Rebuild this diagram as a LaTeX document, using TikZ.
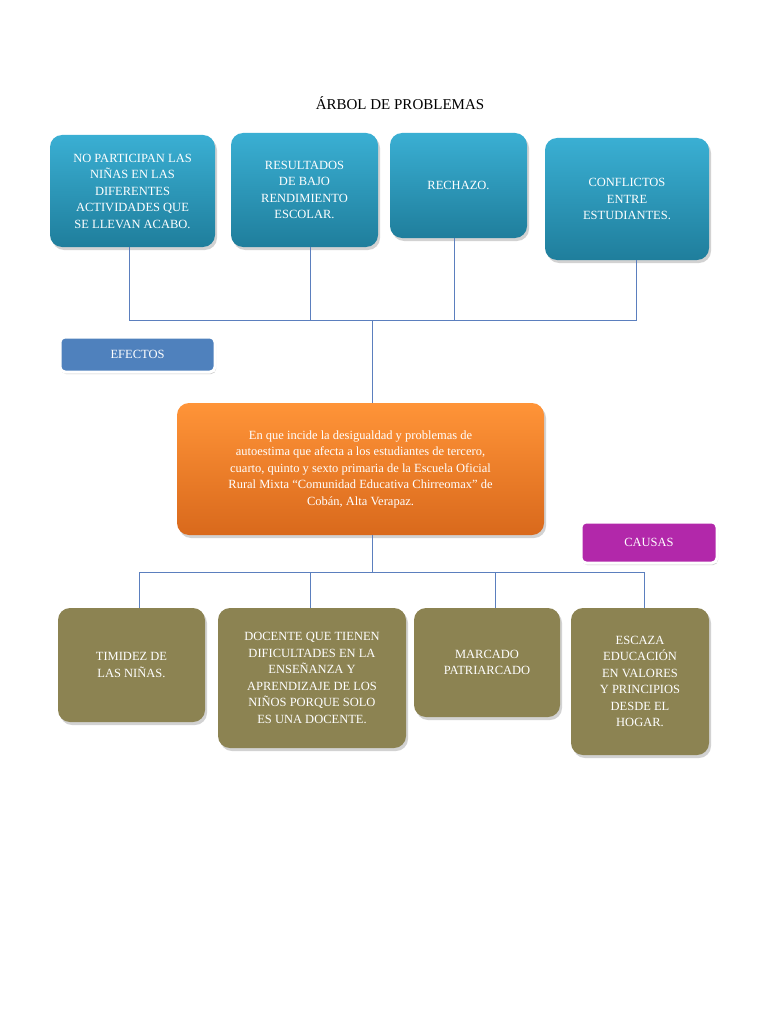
\documentclass[tikz,border=0pt]{standalone}
\usepackage{fontspec}
\setmainfont{Liberation Serif}
\usetikzlibrary{shadows}
\definecolor{tealA}{HTML}{3AAFD3}
\definecolor{tealB}{HTML}{1F7E9C}
\definecolor{orA}{HTML}{FF9438}
\definecolor{orB}{HTML}{D9691C}
\definecolor{ol}{HTML}{8C8352}
\definecolor{lin}{HTML}{5B7FBE}
\tikzset{
 box/.style={rounded corners=12pt, draw=none, text=white, align=center, inner sep=3pt, font=\fontsize{12.5}{16.5}\selectfont, drop shadow={opacity=0.35,shadow xshift=2pt,shadow yshift=-3pt}},
 topbox/.style={box, top color=tealA, bottom color=tealB},
 botbox/.style={box, fill=ol},
 tag/.style={rounded corners=5pt, draw=white, line width=3pt, text=white, align=center, font=\fontsize{12.5}{15}\selectfont, drop shadow={opacity=0.4,shadow xshift=1pt,shadow yshift=-2pt}},
 ln/.style={draw=lin, line width=0.9pt}
}
\begin{document}
\begin{tikzpicture}[x=1pt,y=-1pt]
\useasboundingbox (0,0) rectangle (768,1024);
\fill[white] (0,0) rectangle (768,1024);
\node (title) at (400,103) {\fontsize{15}{18}\selectfont ÁRBOL DE PROBLEMAS};
% connectors first (behind)
\coordinate (j1) at (129,320); \coordinate (j2) at (310,320); \coordinate (j3) at (454,320); \coordinate (j4) at (636,320); \coordinate (jc) at (372,320);
\coordinate (k1) at (139,572); \coordinate (k2) at (310,572); \coordinate (k3) at (495,572); \coordinate (k4) at (644,572); \coordinate (kc) at (372,572);
\node[topbox, minimum width=165, minimum height=112] (t1) at (132.5,191) {NO PARTICIPAN LAS\\NIÑAS EN LAS\\DIFERENTES\\ACTIVIDADES QUE\\SE LLEVAN ACABO.};
\node[topbox, minimum width=147, minimum height=114] (t2) at (304.5,190) {RESULTADOS\\DE BAJO\\RENDIMIENTO\\ESCOLAR.};
\node[topbox, minimum width=137, minimum height=105] (t3) at (458.5,185.5) {RECHAZO.};
\node[topbox, minimum width=164, minimum height=122] (t4) at (627,199) {CONFLICTOS\\ENTRE\\ESTUDIANTES.};
\draw[ln] (t1.south -| j1) -- (j1) -- (j4) -- (t4.south -| j4);
\draw[ln] (t2.south -| j2) -- (j2);
\draw[ln] (t3.south -| j3) -- (j3);
\node[box, top color=orA, bottom color=orB, minimum width=367, minimum height=132] (c) at (360.5,469) {En que incide la desigualdad y problemas de\\autoestima que afecta a los estudiantes de tercero,\\cuarto, quinto y sexto primaria de la Escuela Oficial\\Rural Mixta “Comunidad Educativa Chirreomax” de\\Cobán, Alta Verapaz.};
\draw[ln] (jc) -- (c.north -| jc);
\node[tag, fill=lin!90!black!90, fill={rgb,255:red,79;green,129;blue,189}, minimum width=155, minimum height=35] (ef) at (137.5,354.5) {EFECTOS};
\node[tag, fill={rgb,255:red,178;green,40;blue,170}, minimum width=136, minimum height=41] (ca) at (649,542.5) {CAUSAS};
\node[botbox, minimum width=147, minimum height=114] (b1) at (131.5,665) {TIMIDEZ DE\\LAS NIÑAS.};
\node[botbox, minimum width=188, minimum height=140] (b2) at (312,678) {DOCENTE QUE TIENEN\\DIFICULTADES EN LA\\ENSEÑANZA Y\\APRENDIZAJE DE LOS\\NIÑOS PORQUE SOLO\\ES UNA DOCENTE.};
\node[botbox, minimum width=146, minimum height=109] (b3) at (487,662.5) {MARCADO\\PATRIARCADO};
\node[botbox, minimum width=138, minimum height=147] (b4) at (640,681.5) {ESCAZA\\EDUCACIÓN\\EN VALORES\\Y PRINCIPIOS\\DESDE EL\\HOGAR.};
\draw[ln] (c.south -| kc) -- (kc);
\draw[ln] (b1.north -| k1) -- (k1) -- (k4) -- (b4.north -| k4);
\draw[ln] (k2) -- (b2.north -| k2);
\draw[ln] (k3) -- (b3.north -| k3);
\end{tikzpicture}
\end{document}
